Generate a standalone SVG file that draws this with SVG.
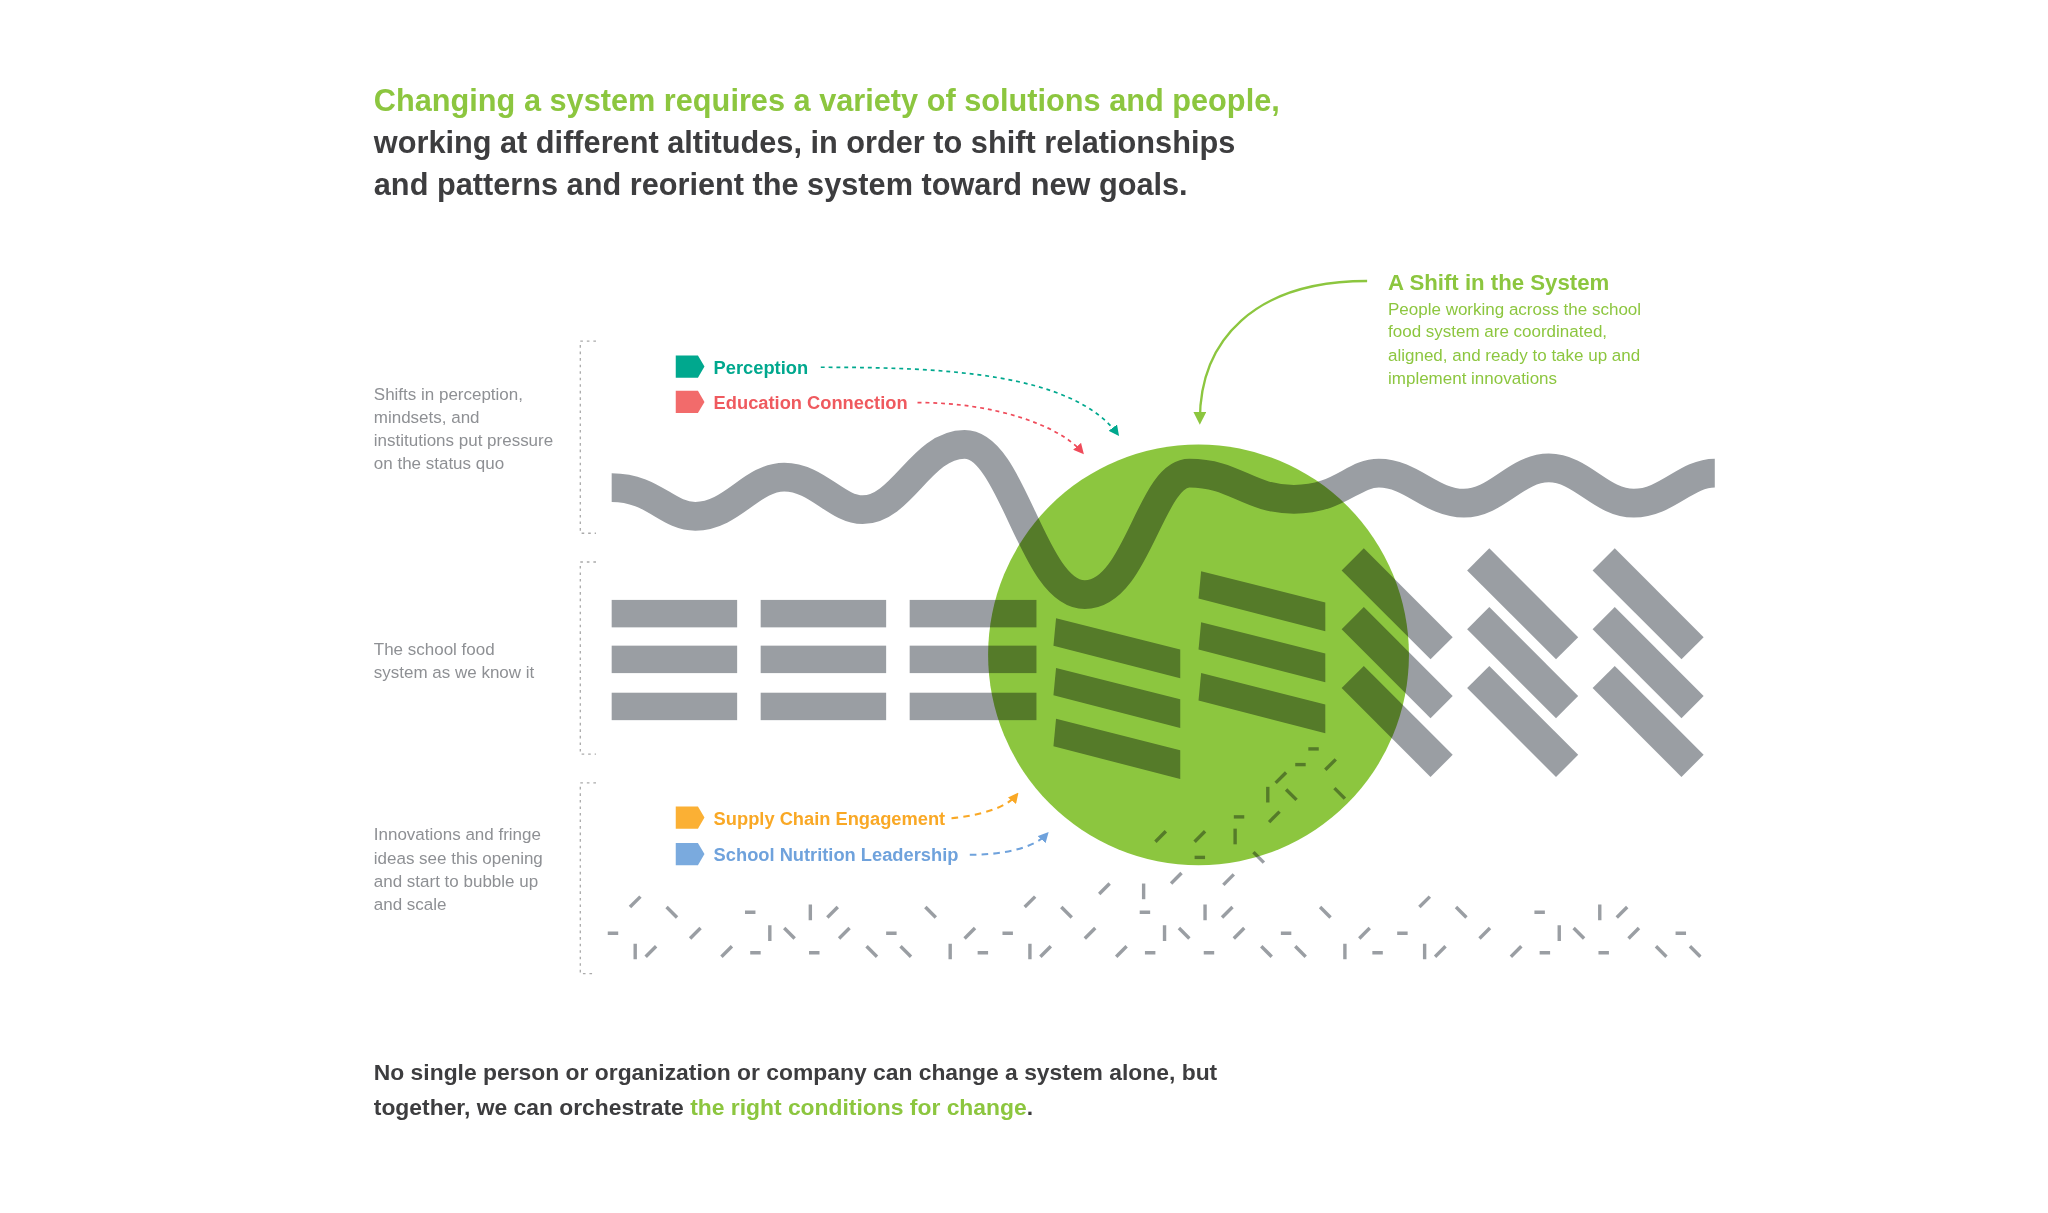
<svg xmlns="http://www.w3.org/2000/svg" width="2048" height="1213" viewBox="0 0 2048 1213">
<style>
text{font-family:"Liberation Sans",Arial,sans-serif}
.t{font-size:23.5px;font-weight:bold;fill:#3d3d3f}
.g{fill:#8cc63f}
.lab{font-size:13px;fill:#8e9094}
.leg{font-size:14px;font-weight:bold}
.gr{fill:#9a9ea3}
.br{fill:none;stroke:#aaa;stroke-width:1;stroke-dasharray:2 3}
</style>
<defs>
<marker id="mt" markerWidth="8" markerHeight="8" refX="6" refY="4" orient="auto" markerUnits="userSpaceOnUse"><path d="M0,0L8,4L0,8z" fill="#00a88e"/></marker>
<marker id="me" markerWidth="8" markerHeight="8" refX="6" refY="4" orient="auto" markerUnits="userSpaceOnUse"><path d="M0,0L8,4L0,8z" fill="#ef4b5a"/></marker>
<marker id="mo" markerWidth="8" markerHeight="8" refX="6" refY="4" orient="auto" markerUnits="userSpaceOnUse"><path d="M0,0L8,4L0,8z" fill="#f9a825"/></marker>
<marker id="mb" markerWidth="8" markerHeight="8" refX="6" refY="4" orient="auto" markerUnits="userSpaceOnUse"><path d="M0,0L8,4L0,8z" fill="#6fa2dc"/></marker>
<marker id="mg" markerWidth="10" markerHeight="10" refX="7" refY="5" orient="auto" markerUnits="userSpaceOnUse"><path d="M0,0L10,5L0,10z" fill="#8cc63f"/></marker>
<clipPath id="clipd"><rect x="440" y="600" width="862" height="200"/></clipPath>
<g id="tile" stroke="#9a9ea3" stroke-width="2.6">
<line x1="16" y1="694" x2="24" y2="686"/><line x1="44" y1="694" x2="52" y2="702"/><line x1="104" y1="698" x2="112" y2="698"/><line x1="154" y1="692" x2="154" y2="704"/><line x1="167" y1="702" x2="175" y2="694"/><line x1="242" y1="694" x2="250" y2="702"/>
<line x1="-1" y1="714" x2="7" y2="714"/><line x1="62" y1="718" x2="70" y2="710"/><line x1="123" y1="708" x2="123" y2="720"/><line x1="134" y1="710" x2="142" y2="718"/><line x1="176" y1="718" x2="184" y2="710"/><line x1="212" y1="714" x2="220" y2="714"/><line x1="272" y1="718" x2="280" y2="710"/>
<line x1="20" y1="722" x2="20" y2="734"/><line x1="28" y1="732" x2="36" y2="724"/><line x1="86" y1="732" x2="94" y2="724"/><line x1="108" y1="729" x2="116" y2="729"/><line x1="153" y1="729" x2="161" y2="729"/><line x1="197" y1="724" x2="205" y2="732"/><line x1="223" y1="724" x2="231" y2="732"/><line x1="261" y1="722" x2="261" y2="734"/><line x1="282" y1="729" x2="290" y2="729"/>
</g>
</defs>
<rect width="2048" height="1213" fill="#fff"/>
<g transform="scale(1.307)">
<g id="title">
<text class="t" x="286" y="85"><tspan class="g">Changing a system requires a variety of solutions and people,</tspan></text>
<text class="t" x="286" y="117">working at different altitudes, in order to shift relationships</text>
<text class="t" x="286" y="149">and patterns and reorient the system toward new goals.</text>
</g>
<g id="brackets">
<path class="br" d="M456,261H444V408H456"/>
<path class="br" d="M456,430H444V577H456"/>
<path class="br" d="M456,599H444V745H456"/>
</g>
<g id="labels">
<text class="lab" x="286" y="306">Shifts in perception,</text>
<text class="lab" x="286" y="324">mindsets, and</text>
<text class="lab" x="286" y="341">institutions put pressure</text>
<text class="lab" x="286" y="359">on the status quo</text>
<text class="lab" x="286" y="501">The school food</text>
<text class="lab" x="286" y="519">system as we know it</text>
<text class="lab" x="286" y="643">Innovations and fringe</text>
<text class="lab" x="286" y="661">ideas see this opening</text>
<text class="lab" x="286" y="679">and start to bubble up</text>
<text class="lab" x="286" y="696">and scale</text>
</g>
<g id="wave"><path d="M468,373C500,373 510,395 532,395C560,395 575,365 600,365C625,365 640,390 660,390C690,390 705,340 738,340C775,340 790,455 830,455C870,455 880,362 910,362C945,362 955,382 990,382C1025,382 1035,362 1055,362C1080,362 1095,385 1120,385C1145,385 1160,358 1185,358C1210,358 1225,385 1250,385C1275,385 1290,362 1312,362" fill="none" stroke="#9a9ea3" stroke-width="22"/></g>
<g id="grid" class="gr">
<rect x="468" y="459" width="96" height="21"/><rect x="582" y="459" width="96" height="21"/><rect x="696" y="459" width="97" height="21"/>
<rect x="468" y="494" width="96" height="21"/><rect x="582" y="494" width="96" height="21"/><rect x="696" y="494" width="97" height="21"/>
<rect x="468" y="530" width="96" height="21"/><rect x="582" y="530" width="96" height="21"/><rect x="696" y="530" width="97" height="21"/>
</g>
<g id="tilted" class="gr">
<path d="M808,473L903,497V519L806,494z"/><path d="M808,511L903,535V557L806,532z"/><path d="M808,550L903,574V596L806,571z"/>
<path d="M919,437L1014,461V483L917,458z"/><path d="M919,476L1014,500V522L917,497z"/><path d="M919,515L1014,539V561L917,536z"/>
</g>
<g id="diag" stroke="#9a9ea3" stroke-width="24">
<line x1="1035" y1="428" x2="1103" y2="496"/><line x1="1035" y1="473" x2="1103" y2="541"/><line x1="1035" y1="518" x2="1103" y2="586"/>
<line x1="1131" y1="428" x2="1199" y2="496"/><line x1="1131" y1="473" x2="1199" y2="541"/><line x1="1131" y1="518" x2="1199" y2="586"/>
<line x1="1227" y1="428" x2="1295" y2="496"/><line x1="1227" y1="473" x2="1295" y2="541"/><line x1="1227" y1="518" x2="1295" y2="586"/>
</g>
<g id="dashes" stroke="#9a9ea3" stroke-width="2.6">
<g clip-path="url(#clipd)"><use href="#tile" x="466"/><use href="#tile" x="768"/><use href="#tile" x="1070"/></g>
<line x1="841" y1="684" x2="849" y2="676"/><line x1="875" y1="676" x2="875" y2="688"/><line x1="896" y1="676" x2="904" y2="668"/><line x1="936" y1="677" x2="944" y2="669"/>
<line x1="884" y1="644" x2="892" y2="636"/><line x1="914" y1="644" x2="922" y2="636"/><line x1="945" y1="634" x2="945" y2="646"/><line x1="959" y1="652" x2="967" y2="660"/><line x1="914" y1="656" x2="922" y2="656"/>
<line x1="944" y1="625" x2="952" y2="625"/><line x1="971" y1="629" x2="979" y2="621"/><line x1="970" y1="602" x2="970" y2="614"/><line x1="984" y1="604" x2="992" y2="612"/><line x1="1021" y1="603" x2="1029" y2="611"/>
<line x1="976" y1="599" x2="984" y2="591"/><line x1="991" y1="585" x2="999" y2="585"/><line x1="1014" y1="589" x2="1022" y2="581"/><line x1="1001" y1="573" x2="1009" y2="573"/>
</g>
<g id="circle"><circle cx="917" cy="501" r="161" fill="#8cc63f" style="mix-blend-mode:multiply"/></g>
<g id="legend">
<path d="M517,272H534L539,280.5L534,289H517z" fill="#00a88e"/><text class="leg" x="546" y="286" fill="#00a88e">Perception</text>
<path d="M517,299H534L539,307.5L534,316H517z" fill="#f26b6b"/><text class="leg" x="546" y="313" fill="#ef5a5f">Education Connection</text>
<path d="M517,617H534L539,625.5L534,634H517z" fill="#fbb034"/><text class="leg" x="546" y="631" fill="#f9a825">Supply Chain Engagement</text>
<path d="M517,645H534L539,653.5L534,662H517z" fill="#7aaade"/><text class="leg" x="546" y="659" fill="#6fa2dc">School Nutrition Leadership</text>
</g>
<g id="connectors" fill="none" stroke-width="1.3">
<path d="M628,281C720,281 820,285 855,332" stroke="#00a88e" stroke-dasharray="3 3" marker-end="url(#mt)"/>
<path d="M702,308C760,308 810,325 828,346" stroke="#ef4b5a" stroke-dasharray="3 3" marker-end="url(#me)"/>
<path d="M728,626C750,624 770,618 778,608" stroke="#f9a825" stroke-width="1.6" stroke-dasharray="5 4" marker-end="url(#mo)"/>
<path d="M742,654C770,654 792,648 801,638" stroke="#6fa2dc" stroke-width="1.6" stroke-dasharray="5 4" marker-end="url(#mb)"/>
<path d="M1046,215C960,215 918,260 918,322" stroke="#8cc63f" stroke-width="1.8" marker-end="url(#mg)"/>
</g>
<g id="shift">
<text x="1062" y="222" font-size="17" font-weight="bold" class="g">A Shift in the System</text>
<text x="1062" y="241" font-size="13" class="g">People working across the school</text>
<text x="1062" y="258" font-size="13" class="g">food system are coordinated,</text>
<text x="1062" y="276" font-size="13" class="g">aligned, and ready to take up and</text>
<text x="1062" y="294" font-size="13" class="g">implement innovations</text>
</g>
<g id="footer">
<text x="286" y="826" font-size="17.5" font-weight="bold" fill="#3d3d3f">No single person or organization or company can change a system alone, but</text>
<text x="286" y="853" font-size="17.5" font-weight="bold" fill="#3d3d3f">together, we can orchestrate <tspan class="g">the right conditions for change</tspan>.</text>
</g>
</g>
</svg>
